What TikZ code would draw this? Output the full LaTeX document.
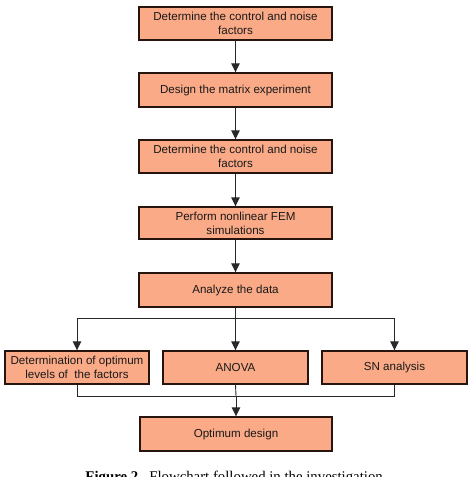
\documentclass[tikz,border=0pt]{standalone}
\usepackage{fontspec}
\setmainfont{Liberation Sans}
\newfontfamily\capfont{Liberation Serif}
\usetikzlibrary{arrows.meta}
\definecolor{boxfill}{RGB}{250,170,135}
\definecolor{boxline}{RGB}{40,20,15}
\definecolor{conn}{RGB}{40,40,40}
\begin{document}
\begin{tikzpicture}[x=1pt,y=-1pt,
  stepbox/.style={draw=boxline,line width=1.4pt,fill=boxfill,align=center,inner sep=0pt,
    font=\fontsize{11.6}{13.7}\selectfont,text=black!90},
  conn/.style={draw=conn,line width=0.9pt},
  arr/.style={conn,-{Triangle[length=9pt,width=8.5pt]}}]
\useasboundingbox (0,0) rectangle (474,477);
\node[stepbox,minimum width=193pt,minimum height=33pt] (b1) at (235.5,23.5) {Determine the control and noise\\factors};
\node[stepbox,minimum width=193pt,minimum height=34pt] (b2) at (235.5,90) {Design the matrix experiment};
\node[stepbox,minimum width=193pt,minimum height=33pt] (b3) at (235.5,156.5) {Determine the control and noise\\factors};
\node[stepbox,minimum width=193pt,minimum height=32pt] (b4) at (235.5,223) {Perform nonlinear FEM\\simulations};
\node[stepbox,minimum width=193pt,minimum height=34pt] (b5) at (235.5,290) {Analyze the data};
\node[stepbox,minimum width=144pt,minimum height=33pt] (l) at (77,367.5) {Determination of optimum\\levels of\ \ the factors};
\node[stepbox,minimum width=145pt,minimum height=33pt] (m) at (235.5,367.5) {ANOVA};
\node[stepbox,minimum width=145pt,minimum height=33pt] (r) at (394.5,367.5) {SN analysis};
\node[stepbox,minimum width=192pt,minimum height=34pt] (o) at (236,434) {Optimum design};
\coordinate (splitl) at (77,318);
\coordinate (splitr) at (394.5,318);
\coordinate (mergel) at (77,396);
\coordinate (merger) at (394.5,396);
\coordinate (merge) at (236,396);
\draw[arr] (b1) -- (b2);
\draw[arr] (b2) -- (b3);
\draw[arr] (b3) -- (b4);
\draw[arr] (b4) -- (b5);
\draw[arr] (b5) -- (m);
\draw[conn] (splitl) -- (splitr);
\draw[arr] (splitl) -- (l);
\draw[arr] (splitr) -- (r);
\draw[conn] (l.south) -- (mergel) -- (merger) -- (r.south);
\draw[conn] (m.south) -- (merge);
\draw[arr] (merge) -- (o);
\node[anchor=base,inner sep=0pt,font=\capfont\fontsize{14.8}{17}\selectfont] (cap) at (236,481) {\textbf{Figure 2.}\ \ Flowchart followed in the investigation.};
\end{tikzpicture}
\end{document}
